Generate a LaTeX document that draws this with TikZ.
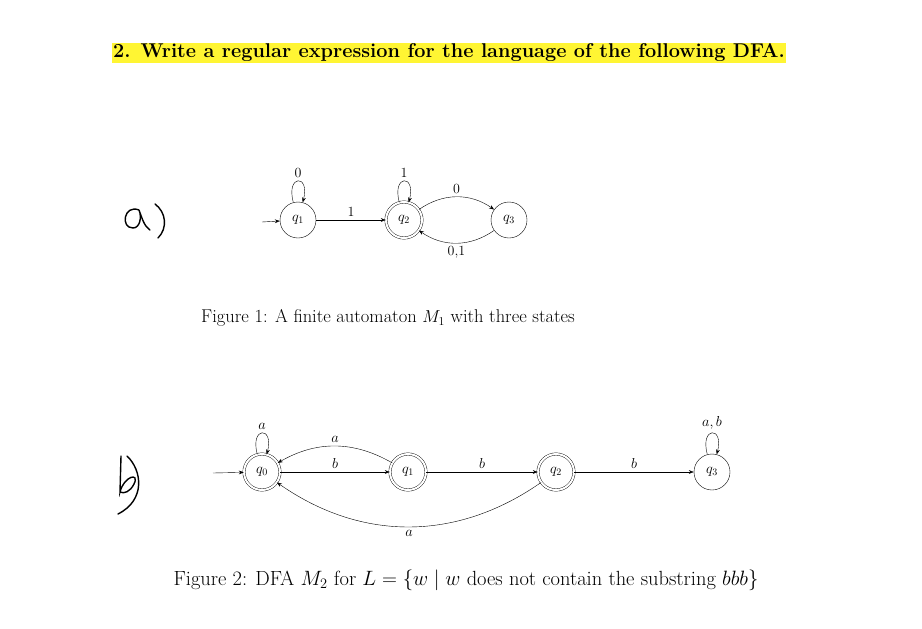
\documentclass[tikz,border=0pt]{standalone}
\usetikzlibrary{arrows.meta,automata,positioning}
\begin{document}
\begin{tikzpicture}[x=1pt,y=-1pt,
  st/.style={circle,draw,thin,minimum size=36pt,inner sep=0pt,font=\fontsize{14}{16}\selectfont},
  acc/.style={st,double,double distance=2pt},
  ar/.style={-{Stealth[length=5pt]},thin},
  lb/.style={font=\fontsize{14}{16}\selectfont},
  hand/.style={line width=1.4pt,line cap=round}]
\useasboundingbox (0,0) rectangle (922,629);
\node[fill=yellow!80,inner sep=1pt,font=\fontsize{19.9}{22}\selectfont\bfseries,anchor=west] (title) at (112,53) {2. Write a regular expression for the language of the following DFA.};
% a)
\draw[hand] (139,210) .. controls (124,204) and (120,228) .. (133,228) .. controls (140,228) and (142,217) .. (139,210) .. controls (142,218) and (144,226) .. (150,230);
\draw[hand] (155,204) .. controls (166,212) and (168,228) .. (158,238);
\node[st] (a1) at (298,220) {$q_1$};
\node[acc] (a2) at (404,220) {$q_2$};
\node[st] (a3) at (509,220) {$q_3$};
\coordinate (as) at (262,222);
\draw[ar] (as) -- (a1);
\draw[ar] (a1) -- node[lb,above] {1} (a2);
\draw[ar] (a1) edge[loop above,looseness=8] node[lb,above] {0} (a1);
\draw[ar] (a2) edge[loop above,looseness=8] node[lb,above] {1} (a2);
\draw[ar] (a2) to[bend left=35] node[lb,above] {0} (a3);
\draw[ar] (a3) to[bend left=35] node[lb,below] {0,1} (a2);
\node[font=\fontsize{18.5}{20}\selectfont] (capa) at (388,318) {Figure 1: A finite automaton $M_1$ with three states};
% b)
\draw[hand] (121,456) -- (120,492) .. controls (124,476) and (140,472) .. (134,484) .. controls (130,492) and (124,494) .. (120,492);
\draw[hand] (127,456) .. controls (142,470) and (146,500) .. (118,514);
\node[acc] (b0) at (262,472) {$q_0$};
\node[acc] (b1) at (408,472) {$q_1$};
\node[acc] (b2) at (556,472) {$q_2$};
\node[st] (b3) at (712,472) {$q_3$};
\coordinate (bs) at (213,473);
\draw[ar] (bs) -- (b0);
\draw[ar] (b0) -- node[lb,above] {$b$} (b1);
\draw[ar] (b1) to[bend right=30] node[lb,above] {$a$} (b0);
\draw[ar] (b1) -- node[lb,above] {$b$} (b2);
\draw[ar] (b2) -- node[lb,above] {$b$} (b3);
\draw[ar] (b2) to[bend left=35] node[lb,below] {$a$} (b0);
\draw[ar] (b0) edge[loop above,looseness=8] node[lb,above] {$a$} (b0);
\draw[ar] (b3) edge[loop above,looseness=8] node[lb,above] {$a,b$} (b3);
\node[font=\fontsize{20.5}{22}\selectfont] (capb) at (466,580) {Figure 2: DFA $M_2$ for $L=\{w\mid w$ does not contain the substring $bbb\}$};
\end{tikzpicture}
\end{document}
